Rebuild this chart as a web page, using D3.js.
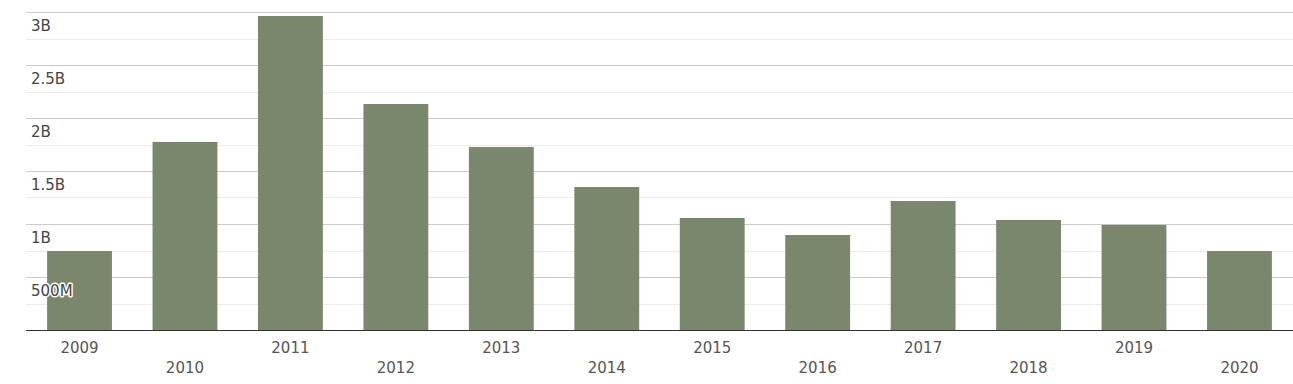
<!DOCTYPE html>
<html>
<head>
<meta charset="utf-8">
<script src="https://cdn.jsdelivr.net/npm/d3@7"></script>
<style>
  body { margin: 0; background: #fff; }
  svg text { font-family: "DejaVu Sans", sans-serif; }
</style>
</head>
<body>
<div id="chart"></div>
<script>
const years = ["2009", "2010", "2011", "2012", "2013", "2014", "2015", "2016", "2017", "2018", "2019", "2020"];
const values = [745e6, 1774e6, 2962e6, 2132e6, 1726e6, 1349e6, 1057e6, 896e6, 1217e6, 1038e6, 991e6, 745e6];
const majorTicks = [500e6, 1e9, 1.5e9, 2e9, 2.5e9, 3e9];
const tickLabels = ["500M", "1B", "1.5B", "2B", "2.5B", "3B"];
const minorTicks = [250e6, 750e6, 1.25e9, 1.75e9, 2.25e9, 2.75e9];

const width = 1293;
const height = 384;
const margin = { top: 12, right: 0, bottom: 54, left: 26 };
const innerWidth = width - margin.left - margin.right;
const innerHeight = height - margin.top - margin.bottom;

const svg = d3.select('#chart').append('svg')
  .attr('width', width)
  .attr('height', height);

const g = svg.append('g')
  .attr('transform', `translate(${margin.left}, ${margin.top})`);

const x = d3.scaleBand()
  .domain(years)
  .range([0, innerWidth])
  .paddingInner(0.385)
  .paddingOuter(0.2);

const y = d3.scaleLinear()
  .domain([0, 3e9])
  .range([innerHeight, 0]);

// minor grid
g.selectAll('.minor').data(minorTicks)
  .enter().append('line')
  .attr('class', 'minor')
  .attr('x1', 0).attr('x2', innerWidth)
  .attr('y1', d => Math.round(y(d)) + 0.5)
  .attr('y2', d => Math.round(y(d)) + 0.5)
  .attr('stroke', '#ececec');

// major grid
g.selectAll('.major').data(majorTicks)
  .enter().append('line')
  .attr('class', 'major')
  .attr('x1', 0).attr('x2', innerWidth)
  .attr('y1', d => Math.round(y(d)) + 0.5)
  .attr('y2', d => Math.round(y(d)) + 0.5)
  .attr('stroke', '#cccccc');

// bars
g.selectAll('.bar').data(values)
  .enter().append('rect')
  .attr('class', 'bar')
  .attr('x', (d, i) => x(years[i]))
  .attr('width', x.bandwidth())
  .attr('y', d => y(d))
  .attr('height', d => innerHeight - y(d))
  .attr('fill', '#7a876c');

// baseline
g.append('line')
  .attr('x1', 0).attr('x2', innerWidth)
  .attr('y1', innerHeight + 0.5).attr('y2', innerHeight + 0.5)
  .attr('stroke', '#333');

// y labels with halo
g.selectAll('.ylabel').data(majorTicks)
  .enter().append('text')
  .attr('class', 'ylabel')
  .attr('x', 5)
  .attr('y', d => y(d) + 18.5)
  .attr('font-size', 15)
  .attr('fill', '#444')
  .attr('stroke', '#fff')
  .attr('stroke-width', 3)
  .attr('paint-order', 'stroke')
  .attr('stroke-linejoin', 'round')
  .text((d, i) => tickLabels[i]);

// x labels, staggered
g.selectAll('.xlabel').data(years)
  .enter().append('text')
  .attr('class', 'xlabel')
  .attr('x', d => x(d) + x.bandwidth() / 2)
  .attr('y', (d, i) => innerHeight + (i % 2 === 0 ? 23 : 43))
  .attr('text-anchor', 'middle')
  .attr('font-size', 15)
  .attr('fill', '#555')
  .text(d => d);
</script>
</body>
</html>
